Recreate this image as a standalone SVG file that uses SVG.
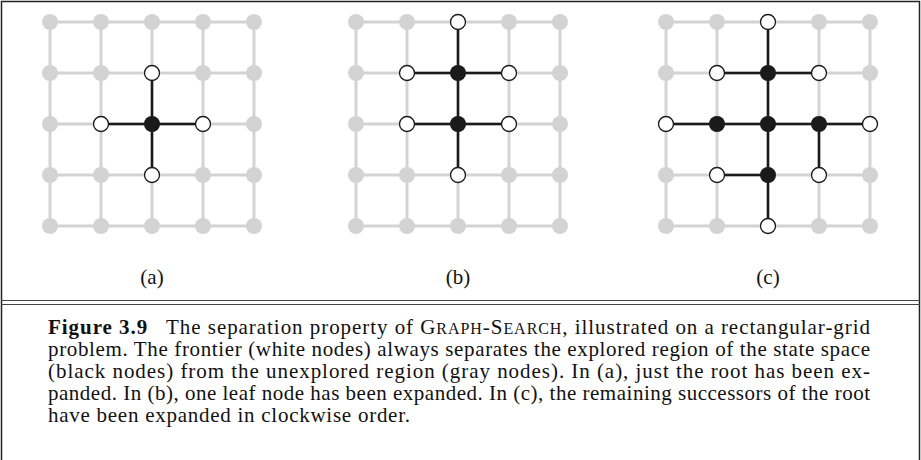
<svg xmlns="http://www.w3.org/2000/svg" width="921" height="460" viewBox="0 0 921 460">
<style>
.g{stroke:#d3d3d3;stroke-width:3;fill:none}
.k{stroke:#1a1a1a;stroke-width:2.5;fill:none}
.gn{fill:#d3d3d3}
.wn{fill:#fff;stroke:#1a1a1a;stroke-width:1.3}
.bn{fill:#1a1a1a}
text{font-family:"Liberation Serif",serif;fill:#111}
.cap{font-size:21px}
.body{font-size:21px}
.sc{font-size:16px}
</style>
<defs>
<g id="grid">
<path class="g" d="M0,0H204M0,51H204M0,102H204M0,153H204M0,204H204M0,0V204M51,0V204M102,0V204M153,0V204M204,0V204"/>
<g class="gn">
<circle cx="0" cy="0" r="8"/><circle cx="51" cy="0" r="8"/><circle cx="102" cy="0" r="8"/><circle cx="153" cy="0" r="8"/><circle cx="204" cy="0" r="8"/>
<circle cx="0" cy="51" r="8"/><circle cx="51" cy="51" r="8"/><circle cx="102" cy="51" r="8"/><circle cx="153" cy="51" r="8"/><circle cx="204" cy="51" r="8"/>
<circle cx="0" cy="102" r="8"/><circle cx="51" cy="102" r="8"/><circle cx="102" cy="102" r="8"/><circle cx="153" cy="102" r="8"/><circle cx="204" cy="102" r="8"/>
<circle cx="0" cy="153" r="8"/><circle cx="51" cy="153" r="8"/><circle cx="102" cy="153" r="8"/><circle cx="153" cy="153" r="8"/><circle cx="204" cy="153" r="8"/>
<circle cx="0" cy="204" r="8"/><circle cx="51" cy="204" r="8"/><circle cx="102" cy="204" r="8"/><circle cx="153" cy="204" r="8"/><circle cx="204" cy="204" r="8"/>
</g>
</g>
</defs>
<rect x="0" y="0" width="921" height="460" fill="#fff"/>
<path d="M1.5,460V1.5H919.5V460" fill="none" stroke="#222" stroke-width="1.5"/>
<path d="M1,300.5H920M1,304.5H920" stroke="#444" stroke-width="1.2"/>

<g id="panel-a" transform="translate(50,22)">
<use href="#grid"/>
<g id="connectors-a"><path class="k" d="M51,102H153M102,51V153"/></g>
<circle class="bn" cx="102" cy="102" r="8"/>
<circle class="wn" cx="102" cy="51" r="7.5"/><circle class="wn" cx="51" cy="102" r="7.5"/><circle class="wn" cx="153" cy="102" r="7.5"/><circle class="wn" cx="102" cy="153" r="7.5"/>
</g>
<g id="panel-b" transform="translate(356,22)">
<use href="#grid"/>
<g id="connectors-b"><path class="k" d="M102,0V153M51,51H153M51,102H153"/></g>
<circle class="bn" cx="102" cy="102" r="8"/><circle class="bn" cx="102" cy="51" r="8"/>
<circle class="wn" cx="102" cy="0" r="7.5"/><circle class="wn" cx="51" cy="51" r="7.5"/><circle class="wn" cx="153" cy="51" r="7.5"/><circle class="wn" cx="51" cy="102" r="7.5"/><circle class="wn" cx="153" cy="102" r="7.5"/><circle class="wn" cx="102" cy="153" r="7.5"/>
</g>
<g id="panel-c" transform="translate(666,22)">
<use href="#grid"/>
<g id="connectors-c"><path class="k" d="M102,0V204M51,51H153M0,102H204M51,153H102M153,102V153"/></g>
<circle class="bn" cx="102" cy="102" r="8"/><circle class="bn" cx="102" cy="51" r="8"/><circle class="bn" cx="51" cy="102" r="8"/><circle class="bn" cx="153" cy="102" r="8"/><circle class="bn" cx="102" cy="153" r="8"/>
<circle class="wn" cx="102" cy="0" r="7.5"/><circle class="wn" cx="51" cy="51" r="7.5"/><circle class="wn" cx="153" cy="51" r="7.5"/><circle class="wn" cx="0" cy="102" r="7.5"/><circle class="wn" cx="204" cy="102" r="7.5"/><circle class="wn" cx="51" cy="153" r="7.5"/><circle class="wn" cx="153" cy="153" r="7.5"/><circle class="wn" cx="102" cy="204" r="7.5"/>
</g>

<text x="152" y="284" text-anchor="middle" class="cap">(a)</text>
<text x="458" y="284" text-anchor="middle" class="cap">(b)</text>
<text x="768" y="284" text-anchor="middle" class="cap">(c)</text>

<text class="body" x="48" y="334" textLength="822" lengthAdjust="spacing"><tspan font-weight="bold">Figure 3.9</tspan><tspan dx="18">The separation property of G</tspan><tspan class="sc">RAPH</tspan>-S<tspan class="sc">EARCH</tspan>, illustrated on a rectangular-grid</text>
<text class="body" x="48" y="356" textLength="822" lengthAdjust="spacing">problem. The frontier (white nodes) always separates the explored region of the state space</text>
<text class="body" x="48" y="378" textLength="822" lengthAdjust="spacing">(black nodes) from the unexplored region (gray nodes).  In (a), just the root has been ex-</text>
<text class="body" x="48" y="400" textLength="822" lengthAdjust="spacing">panded. In (b), one leaf node has been expanded. In (c), the remaining successors of the root</text>
<text class="body" x="48" y="422" textLength="362" lengthAdjust="spacing">have been expanded in clockwise order.</text>
</svg>
